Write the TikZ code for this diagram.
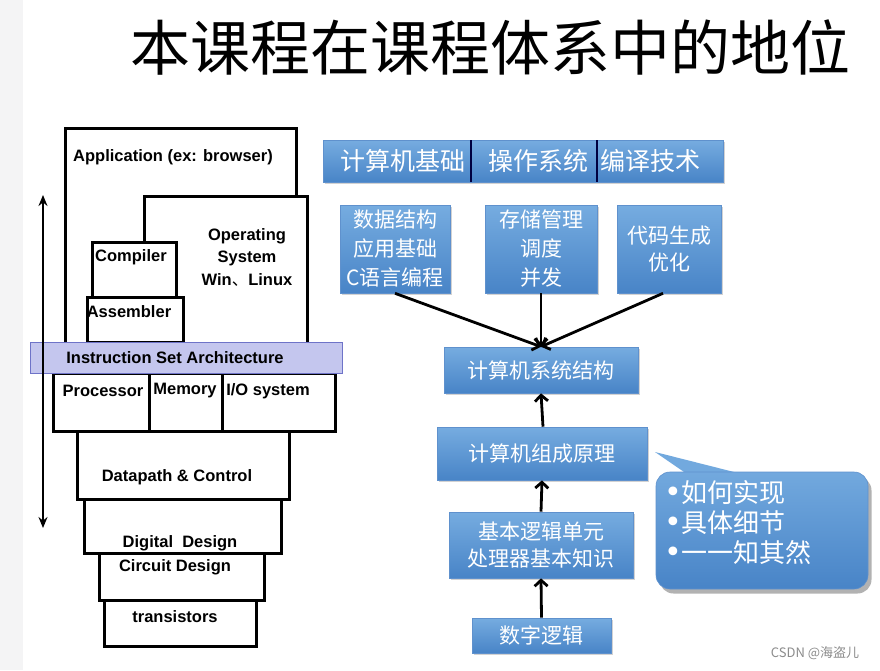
\documentclass[tikz,border=0pt]{standalone}
\usepackage{fontspec}
\setmainfont{Liberation Sans}
\newfontfamily\cjk{Noto Sans CJK SC}
\newfontfamily\dejavu{DejaVu Sans}
\usetikzlibrary{arrows.meta,shadows}
\definecolor{btop}{RGB}{118,172,224}
\definecolor{bbot}{RGB}{72,132,199}
\definecolor{bedge}{RGB}{95,145,205}
\definecolor{isafill}{RGB}{196,198,238}
\definecolor{isaedge}{RGB}{110,115,200}
\definecolor{strip}{RGB}{244,244,245}
\tikzset{
 bluebox/.style={draw=bedge, line width=0.6pt, top color=btop, bottom color=bbot, text=white, inner sep=0pt,
   font=\cjk\fontsize{21}{28}\selectfont, align=center,
   drop shadow={shadow xshift=1.5pt, shadow yshift=-1.5pt, opacity=0.35}},
 whitetext/.style={text=white, inner sep=0pt, align=center},
 layer/.style={draw=black, line width=3pt},
 lbl/.style={font=\bfseries\fontsize{16.5}{22.5}\selectfont, inner sep=0pt, align=center},
 flow/.style={line width=2.8pt, -{Straight Barb[sharp, length=6pt, width=13pt]}},
}
\newcommand{\bul}{{\dejavu\fontsize{30}{30}\selectfont •}}
\begin{document}
\begin{tikzpicture}[x=1pt,y=-1pt]
\useasboundingbox (0,0) rectangle (880,670);
\fill[white] (0,0) rectangle (880,670);
\fill[strip] (0,0) rectangle (23,670);

% title
\node[font=\cjk\fontsize{60}{66}\selectfont, inner sep=0pt] (title) at (490,47) {本课程在课程体系中的地位};

% ---------------- left stack ----------------
\draw[layer, line join=miter] (65,342) -- (65,128) -- (296,128) -- (296,196);
\draw[layer, line join=miter] (144,242) -- (144,196) -- (307,196) -- (307,342);
\draw[layer] (92,242) rectangle (176,297);
\draw[layer] (87,297) rectangle (183,342);
\node[lbl] (app) at (173,157) {Application (ex: browser)};
\node[lbl] (os) at (247,257) {Operating\\System\\Win{\cjk\mdseries 、}Linux};
\node[lbl] (compiler) at (131,257) {Compiler};
\node[lbl] (assembler) at (129,312) {Assembler};

\draw[layer] (53,373) rectangle (335,431);
\draw[layer] (149,373) -- (149,431);
\draw[layer] (222,373) -- (222,431);
\node[lbl] (proc) at (103,391) {Processor};
\node[lbl] (mem) at (185,391) {Memory};
\node[lbl] (io) at (268,391) {I/O system};

\draw[layer] (77,431) rectangle (289,499);
\node[lbl] (dp) at (177,477) {Datapath \& Control};
\draw[layer] (84,499) rectangle (281,553);
\node[lbl] (dd) at (180,543) {Digital\ \ Design};
\draw[layer] (99,553) rectangle (264,600);
\node[lbl] (cd) at (175,567) {Circuit Design};
\draw[layer] (104,600) rectangle (256,646);
\node[lbl] (tr) at (175,617) {transistors};

\fill[isafill] (30,342) rectangle (342,373);
\draw[isaedge, line width=0.8pt] (30,342) rectangle (342,373);
\node[lbl] (isa) at (175,358) {Instruction Set Architecture};

\coordinate (up) at (43,195);
\coordinate (down) at (43,528);
\draw[line width=2.4pt, {Stealth[length=11pt,width=9pt]}-{Stealth[length=11pt,width=9pt]}] (up) -- (down);

% ---------------- right side ----------------
\node[bluebox, minimum width=400pt, minimum height=42pt] (bar) at (523,161) {};
\draw[line width=1.3pt, black!75!blue] (471,140) -- (471,182);
\draw[line width=1.3pt, black!75!blue] (597,140) -- (597,182);
\node[whitetext, font=\cjk\fontsize{25}{30}\selectfont] (jc) at (403,161) {计算机基础};
\node[whitetext, font=\cjk\fontsize{25}{30}\selectfont] (czxt) at (538,161) {操作系统};
\node[whitetext, font=\cjk\fontsize{25}{30}\selectfont] (byjs) at (650,161) {编译技术};

\node[bluebox, minimum width=110pt, minimum height=88pt, font=\cjk\fontsize{21}{29}\selectfont] (b1) at (395,249) {数据结构\\应用基础\\C语言编程};
\node[bluebox, minimum width=112pt, minimum height=88pt, font=\cjk\fontsize{21}{29}\selectfont] (b2) at (541,249) {存储管理\\调度\\并发};
\node[bluebox, minimum width=104pt, minimum height=88pt, font=\cjk\fontsize{21}{27}\selectfont] (b3) at (669,249) {代码生成\\优化};

\node[bluebox, minimum width=194pt, minimum height=46pt] (arch) at (541,370) {计算机系统结构};
\node[bluebox, minimum width=210pt, minimum height=53pt] (org) at (542,453.5) {计算机组成原理};
\node[bluebox, minimum width=184pt, minimum height=66pt, font=\cjk\fontsize{21}{27}\selectfont] (basic) at (541,545) {基本逻辑单元\\处理器基本知识};
\node[bluebox, minimum width=139pt, minimum height=35pt] (dl) at (541.5,635.5) {数字逻辑};

\draw[flow] (b1.south) -- (arch.north);
\draw[flow] (b2.south) -- (arch.north);
\draw[flow] ([xshift=-6pt]b3.south) -- (arch.north);
\draw[flow] (dl.north) -- (basic.south);
\draw[flow] (basic.north) -- (org.south);
\draw[flow] ([xshift=1pt]org.north) -- (arch.south);

% callout
\coordinate (tip) at (655,452);
\fill[black, opacity=0.3, rounded corners=14pt] (659.5,476.5) rectangle (871.5,593.5);
\fill[btop!92!bbot] (687,474) -- (tip) -- (742,474) -- cycle;
\node[draw=bedge, line width=0.6pt, top color=btop!92!bbot, bottom color=bbot, rounded corners=14pt,
  minimum width=212pt, minimum height=117pt, inner sep=0pt] (call) at (762,530.5) {};
\node[whitetext, font=\cjk\fontsize{26}{30}\selectfont, align=left, anchor=west] (bul) at (664,523)
  {\bul 如何实现\\\bul 具体细节\\\bul 一一知其然};

% watermark
\node[font=\cjk\fontsize{13}{15}\selectfont, text=black!45, inner sep=0pt] (wm) at (815,653) {CSDN @海盗儿};
\end{tikzpicture}
\end{document}
